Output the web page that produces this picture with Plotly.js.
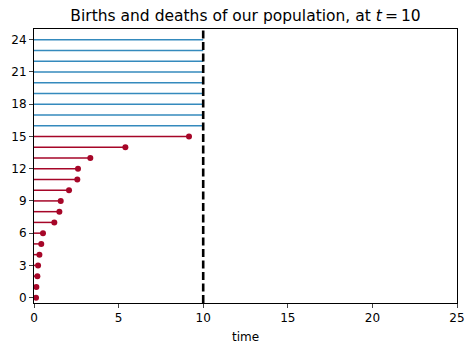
<!DOCTYPE html>
<html>
<head>
<meta charset="utf-8">
<script src="https://cdn.plot.ly/plotly-3.0.1.min.js"></script>
<style>html,body{margin:0;padding:0;background:#fff;}#chart{width:474px;height:351px;}</style>
</head>
<body>
<div id="chart"></div>
<script>
// individuals 0..15 died (red), 16..24 still alive at t=10 (blue)
const deadIds = [0,1,2,3,4,5,6,7,8,9,10,11,12,13,14,15];
const deathTimes = [0.12,0.14,0.20,0.24,0.32,0.43,0.53,1.20,1.50,1.58,2.07,2.56,2.60,3.33,5.40,9.16];
const aliveIds = [16,17,18,19,20,21,22,23,24];
const currentTime = 10;
const xTicks = [0,5,10,15,20,25];
const yTicks = [0,3,6,9,12,15,18,21,24];

const red = '#A60628', blue = '#348ABD';
const rx = [], ry = [];
deadIds.forEach((id, i) => { rx.push(0, deathTimes[i], null); ry.push(id, id, null); });
const bx = [], by = [];
aliveIds.forEach(id => { bx.push(0, currentTime, null); by.push(id, id, null); });

const traces = [
  {x: rx, y: ry, mode: 'lines', line: {color: red, width: 1.5}, hoverinfo: 'skip'},
  {x: bx, y: by, mode: 'lines', line: {color: blue, width: 1.5}, hoverinfo: 'skip'},
  {x: deathTimes, y: deadIds, mode: 'markers', marker: {color: red, size: 6}},
  {x: [currentTime, currentTime], y: [-0.5, 25], mode: 'lines', line: {color: '#000', width: 2.6, dash: '8px,3.5px'}}
];

const layout = {
  width: 474, height: 351,
  margin: {l: 34, r: 17, t: 29, b: 48},
  showlegend: false,
  paper_bgcolor: '#fff', plot_bgcolor: '#fff',
  font: {family: 'DejaVu Sans', size: 12, color: '#000'},
  title: {text: 'Births and deaths of our population, at <i>t</i>\u2009=\u200910', font: {size: 15.5}, x: 0.518, xanchor: 'center',
          yref: 'container', y: 0.955, yanchor: 'middle'},
  xaxis: {range: [0, 25], tickvals: xTicks, ticks: 'outside', ticklen: 4, tickwidth: 1, showgrid: false, zeroline: false,
          showline: true, mirror: true, linecolor: '#000', linewidth: 1,
          title: {text: 'time', font: {size: 12}, standoff: 8}},
  yaxis: {range: [-0.5, 25], tickvals: yTicks, ticks: 'outside', ticklen: 4, tickwidth: 1, showgrid: false, zeroline: false,
          showline: true, mirror: true, linecolor: '#000', linewidth: 1}
};
Plotly.newPlot('chart', traces, layout, {displayModeBar: false, staticPlot: true});
</script>
</body>
</html>
